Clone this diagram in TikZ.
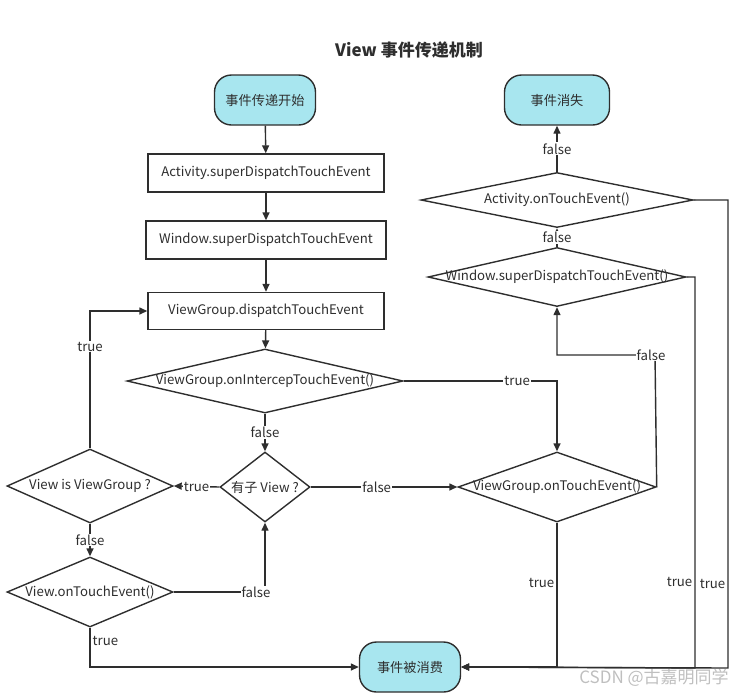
\documentclass[tikz,border=0pt]{standalone}
\usepackage{fontspec}
\setmainfont{Noto Sans CJK SC}
\usetikzlibrary{positioning}
\usetikzlibrary{shapes.geometric}
\usetikzlibrary{arrows.meta}

\definecolor{termcyan}{HTML}{A8E6EF}
\definecolor{ink}{HTML}{2E2E2E}

\tikzset{
  term/.style={draw, fill=termcyan, rounded corners=17pt, minimum width=101pt, minimum height=50pt},
  proc/.style={draw, minimum width=236pt, minimum height=38pt},
  test/.style={draw, diamond, inner sep=0pt},
  flow/.style={-{Triangle[length=8pt, width=7pt]}},
  lbl/.style={fill=white, inner sep=1pt},
  side/.style={inner sep=2pt}
}

\begin{document}
\begin{tikzpicture}[x=1pt, y=-1pt, color=ink, line width=1.4pt,
    font=\fontsize{13.2}{15}\selectfont]
  \useasboundingbox (0,0) rectangle (755,697);

  \node[font=\fontsize{17}{20}\selectfont\bfseries] (title) at (409,50) {View 事件传递机制};

  % left column
  \node[term] (start) at (265,100) {事件传递开始};
  \node[proc] (actsd) at (266,173) {Activity.superDispatchTouchEvent};
  \node[proc, minimum width=240pt] (winsd) at (266,240) {Window.superDispatchTouchEvent};
  \node[proc, minimum height=37pt] (vgdte) at (266,311) {ViewGroup.dispatchTouchEvent};
  \node[test, minimum width=276pt, minimum height=64pt,
    label=center:{ViewGroup.onIntercepTouchEvent()}] (icpt) at (265,381) {};
  \node[test, minimum width=90pt, minimum height=70pt,
    label=center:{有子 View ?}] (child) at (265,487) {};
  \node[test, minimum width=166pt, minimum height=74pt,
    label=center:{View is ViewGroup ?}] (isvg) at (90,486) {};
  \node[test, minimum width=166pt, minimum height=70pt,
    label=center:{View.onTouchEvent()}] (vote) at (90,592) {};
  \node[term] (cons) at (410,667) {事件被消费};

  % right column
  \node[term, minimum width=105pt] (gone) at (557,100) {事件消失};
  \node[test, minimum width=272pt, minimum height=55pt,
    label=center:{Activity.onTouchEvent()}] (act) at (557,200) {};
  \node[test, minimum width=258pt, minimum height=59pt,
    label=center:{Window.superDispatchTouchEvent()}] (win) at (557,277) {};
  \node[test, minimum width=198pt, minimum height=70pt,
    label=center:{ViewGroup.onTouchEvent()}] (vgte) at (557,487) {};

  \node[text=gray!50, font=\fontsize{17}{20}\selectfont] (mark) at (654,678) {CSDN @古嘉明同学};

  % dispatch
  \draw[flow] (start) -- (actsd);
  \draw[flow] (actsd) -- (winsd);
  \draw[flow] (winsd) -- (vgdte);
  \draw[flow] (vgdte) -- (icpt);
  \draw[flow] (icpt.east) -- node[lbl, pos=0.74] {true} (icpt.east -| vgte.north) -- (vgte.north);
  \draw[flow] (icpt.south) -- node[lbl] {false} (child.north);
  \draw[flow] (child.west) -- node[lbl] {true} (isvg.east);
  \draw[flow] (child.east) -- node[lbl, pos=0.45] {false} (vgte.west);
  \draw[flow] (isvg.north) -- node[lbl, pos=0.74] {true} (isvg.north |- vgdte.west) -- (vgdte.west);
  \draw[flow] (isvg.south) -- node[lbl] {false} (vote.north);

  % consume
  \draw[flow] (vote.east) -- (vote.east -| child.south) node[lbl, xshift=-9pt] {false} -- (child.south);
  \draw[flow] (vote.south) -- node[side, anchor=west, pos=0.35] {true} (vote.south |- cons.west) -- (cons.west);
  \draw[flow] (vgte.south) -- node[side, anchor=east, pos=0.42] {true} (vgte.south |- cons.east) -- (cons.east);

  % return back up
  \draw[flow] (vgte.east) -- (655,355) node[lbl, xshift=-4pt] {false} -- (win.south |- 0,355) -- (win.south);
  \draw[flow] (win.east) -- (695,277) -- node[side, anchor=east, pos=0.78] {true} (695,668) -- (cons.east);
  \draw[flow] (win.north) -- node[lbl] {false} (act.south);
  \draw[flow] (act.east) -- (728,200) -- node[side, anchor=east, pos=0.82] {true} (728,668) -- (cons.east);
  \draw[flow] (act.north) -- node[lbl] {false} (gone.south);
\end{tikzpicture}
\end{document}
